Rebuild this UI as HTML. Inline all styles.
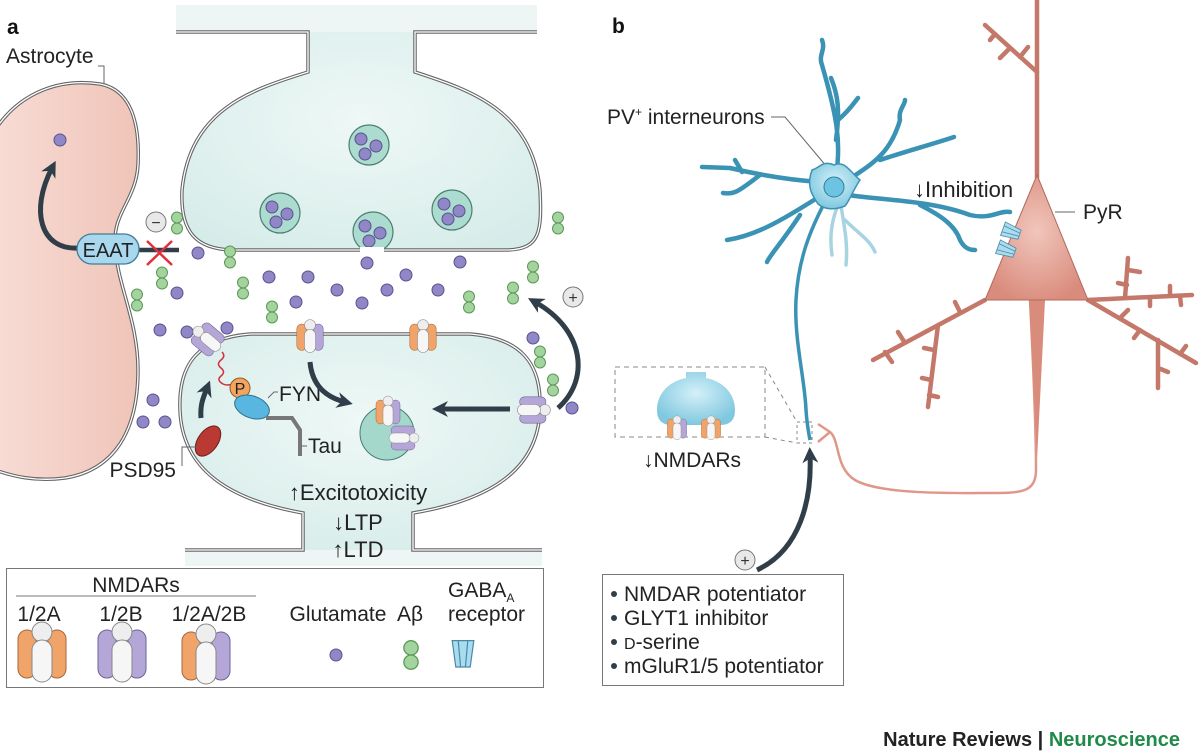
<!DOCTYPE html>
<html><head><meta charset="utf-8"><style>
html,body{margin:0;padding:0;background:#fff;}
svg{display:block;font-family:"Liberation Sans",sans-serif;}
</style></head><body>
<svg width="1200" height="754" viewBox="0 0 1200 754" xmlns="http://www.w3.org/2000/svg">
<defs>
<linearGradient id="pink" x1="0" x2="1"><stop offset="0" stop-color="#f7dcd5"/><stop offset="1" stop-color="#f0c4b8"/></linearGradient>
<radialGradient id="teal" cx="0.5" cy="0.4" r="0.7"><stop offset="0" stop-color="#eef8f6"/><stop offset="1" stop-color="#d6ece9"/></radialGradient>
<radialGradient id="blue" cx="0.5" cy="0.4" r="0.6"><stop offset="0" stop-color="#d5f0f8"/><stop offset="1" stop-color="#7fc8e0"/></radialGradient>
<radialGradient id="pyr" cx="0.5" cy="0.45" r="0.6"><stop offset="0" stop-color="#f1c6bc"/><stop offset="1" stop-color="#d98b7c"/></radialGradient>
<g id="nA"><rect x="-24" y="-20" width="18" height="48" rx="9" fill="#f0a46a" stroke="#a9663a"/><rect x="6" y="-20" width="18" height="48" rx="9" fill="#f0a46a" stroke="#a9663a"/><circle cx="0" cy="-18" r="10" fill="#eee" stroke="#888"/><rect x="-10" y="-10" width="20" height="42" rx="10" fill="#f6f6f6" stroke="#888"/></g>
<g id="nB"><rect x="-24" y="-20" width="18" height="48" rx="9" fill="#b4a6d6" stroke="#6e6399"/><rect x="6" y="-20" width="18" height="48" rx="9" fill="#b4a6d6" stroke="#6e6399"/><circle cx="0" cy="-18" r="10" fill="#eee" stroke="#888"/><rect x="-10" y="-10" width="20" height="42" rx="10" fill="#f6f6f6" stroke="#888"/></g>
<g id="nAB"><rect x="-24" y="-20" width="18" height="48" rx="9" fill="#f0a46a" stroke="#a9663a"/><rect x="6" y="-20" width="18" height="48" rx="9" fill="#b4a6d6" stroke="#6e6399"/><circle cx="0" cy="-18" r="10" fill="#eee" stroke="#888"/><rect x="-10" y="-10" width="20" height="42" rx="10" fill="#f6f6f6" stroke="#888"/></g>
<g id="glu"><circle r="6" fill="#9087c6" stroke="#5a5290" stroke-width="1"/></g>
<g id="ab"><circle cy="-5.5" r="5.5" fill="#a3d49d" stroke="#5c9857"/><circle cy="5.5" r="5.5" fill="#a3d49d" stroke="#5c9857"/></g>
<g id="ves"><circle r="20" fill="#acdccf" stroke="#4c7d72" stroke-width="1.2"/><use href="#glu" x="-8" y="-6"/><use href="#glu" x="7" y="1"/><use href="#glu" x="-4" y="9"/></g>
<g id="gaba"><path d="M-9,-12 L9,-12 L6,10 L-6,10 Z" fill="#a9dcef" stroke="#4a89a6"/><path d="M-4,-12 L-2,10 M4,-12 L2,10" stroke="#4a89a6" fill="none"/></g>
<marker id="ah" viewBox="0 0 10 10" refX="5" refY="5" markerWidth="3.2" markerHeight="3.2" orient="auto"><path d="M0,0 L10,5 L0,10 L3,5 Z" fill="#2f3e48"/></marker>
</defs>

<!-- ===== Panel a ===== -->
<text x="7" y="34" font-size="21" font-weight="bold" fill="#111">a</text>
<text x="6" y="63" font-size="21" fill="#222">Astrocyte</text>
<path d="M98,66 H104 V86" stroke="#666" fill="none"/>

<path d="M-5,130 C 20,92 60,78 100,84 C 132,90 140,125 138,165 C 136,200 113,212 115,245 C 117,285 138,320 138,370 C 138,430 115,470 65,478 C 35,482 12,476 -5,470 Z" fill="url(#pink)" stroke="#666" stroke-width="3.5"/>
<path d="M-5,130 C 20,92 60,78 100,84 C 132,90 140,125 138,165 C 136,200 113,212 115,245 C 117,285 138,320 138,370 C 138,430 115,470 65,478 C 35,482 12,476 -5,470" fill="none" stroke="#fff" stroke-width="1.3"/>
<use href="#glu" x="60" y="140"/>
<path d="M78,248 C 40,250 30,210 52,168" stroke="#2f3e48" stroke-width="5" fill="none" marker-end="url(#ah)"/>
<line x1="136" y1="250" x2="179" y2="250" stroke="#2f3e48" stroke-width="4.5"/>
<rect x="77" y="234" width="62" height="30" rx="15" fill="#a9d8ee" stroke="#3f7e99" stroke-width="1.3"/>
<text x="108" y="257" font-size="20" text-anchor="middle" fill="#222">EAAT</text>
<path d="M147,241 L172,265 M172,241 L147,265" stroke="#e0303a" stroke-width="2.5"/>
<circle cx="156" cy="222" r="10" fill="#e8e8e8" stroke="#777"/><text x="156" y="228" font-size="16" text-anchor="middle" fill="#333">−</text>

<rect x="176" y="5" width="361" height="27" fill="#eef6f5"/>
<path d="M308,32 V72 C 250,90 190,110 182,190 C 180,232 196,249 232,250 H508 C 540,249 542,232 540,190 C 532,110 470,90 415,72 V32 Z" fill="url(#teal)"/>
<path d="M176,32 H308 V72 C 250,90 190,110 182,190 C 180,232 196,249 232,250 H508 C 540,249 542,232 540,190 C 532,110 470,90 415,72 V32 H537" fill="none" stroke="#666" stroke-width="3.5"/>
<path d="M176,32 H308 V72 C 250,90 190,110 182,190 C 180,232 196,249 232,250 H508 C 540,249 542,232 540,190 C 532,110 470,90 415,72 V32 H537" fill="none" stroke="#fff" stroke-width="1.3"/>
<use href="#ves" x="369" y="145"/>
<use href="#ves" x="280" y="213"/>
<use href="#ves" x="452" y="210"/>
<use href="#ves" x="373" y="232"/>
<rect x="360" y="247" width="24" height="6" fill="#fff"/>

<g>
<use href="#glu" x="198" y="253"/><use href="#glu" x="269" y="277"/><use href="#glu" x="308" y="277"/><use href="#glu" x="337" y="290"/>
<use href="#glu" x="362" y="303"/><use href="#glu" x="367" y="263"/><use href="#glu" x="387" y="290"/><use href="#glu" x="406" y="275"/>
<use href="#glu" x="438" y="290"/><use href="#glu" x="460" y="262"/><use href="#glu" x="296" y="302"/><use href="#glu" x="177" y="293"/>
<use href="#glu" x="160" y="330"/><use href="#glu" x="187" y="332"/><use href="#glu" x="227" y="328"/><use href="#glu" x="533" y="338"/>
<use href="#glu" x="153" y="400"/><use href="#glu" x="143" y="422"/><use href="#glu" x="165" y="422"/><use href="#glu" x="572" y="408"/>
<use href="#ab" x="177" y="223"/><use href="#ab" x="230" y="257"/><use href="#ab" x="162" y="278"/><use href="#ab" x="137" y="300"/>
<use href="#ab" x="243" y="288"/><use href="#ab" x="272" y="312"/><use href="#ab" x="469" y="302"/><use href="#ab" x="513" y="293"/>
<use href="#ab" x="533" y="272"/><use href="#ab" x="558" y="223"/><use href="#ab" x="540" y="357"/><use href="#ab" x="553" y="385"/>
</g>

<path d="M303,550 V513 C 230,500 182,470 180,410 C 178,362 200,338 250,334 H470 C 520,338 542,362 540,410 C 538,470 490,500 413,513 V550 Z" fill="url(#teal)"/>
<rect x="185" y="550" width="357" height="16" fill="#eef6f5"/>
<path d="M185,550 H303 V513 C 230,500 182,470 180,410 C 178,362 200,338 250,334 H470 C 520,338 542,362 540,410 C 538,470 490,500 413,513 V550 H542" fill="none" stroke="#666" stroke-width="3.5"/>
<path d="M185,550 H303 V513 C 230,500 182,470 180,410 C 178,362 200,338 250,334 H470 C 520,338 542,362 540,410 C 538,470 490,500 413,513 V550 H542" fill="none" stroke="#fff" stroke-width="1.3"/>

<use href="#nAB" transform="translate(310,335) scale(0.55)"/>
<use href="#nA" transform="translate(423,335) scale(0.55)"/>
<use href="#nB" transform="translate(206,338) rotate(-50) scale(0.55)"/>
<use href="#nB" transform="translate(535,410) rotate(90) scale(0.55)"/>
<path d="M222,352 q4,4 -1,8 q-5,4 0,8 q5,4 0,8 q-5,4 2,8 q4,2 10,0" stroke="#d0303a" stroke-width="1.5" fill="none"/>
<circle cx="240" cy="388" r="10" fill="#f3a55f" stroke="#8a5a2a"/><text x="240" y="394" font-size="16" text-anchor="middle" fill="#222">P</text>
<ellipse cx="252" cy="407" rx="18" ry="11" transform="rotate(20 252 407)" fill="#58b6e0" stroke="#2c6f8e"/>
<path d="M266,418 H292 L300,430 V456" stroke="#777" stroke-width="4" fill="none"/>
<path d="M268,398 L274,392 H278" stroke="#666" fill="none"/>
<text x="279" y="401" font-size="21" fill="#222">FYN</text>
<path d="M301,446 H307" stroke="#666"/>
<text x="308" y="453" font-size="21" fill="#222">Tau</text>
<ellipse cx="208" cy="441" rx="10" ry="17" transform="rotate(35 208 441)" fill="#b83a32" stroke="#6a1f1a"/>
<path d="M198,447 H182 V466" stroke="#666" fill="none"/>
<text x="176" y="477" font-size="21" text-anchor="end" fill="#222">PSD95</text>
<path d="M201,418 C 200,405 203,398 207,388" stroke="#2f3e48" stroke-width="5" fill="none" marker-end="url(#ah)"/>
<path d="M310,362 C 312,385 325,397 345,402" stroke="#2f3e48" stroke-width="5" fill="none" marker-end="url(#ah)"/>
<line x1="510" y1="409" x2="440" y2="409" stroke="#2f3e48" stroke-width="5" marker-end="url(#ah)"/>
<path d="M558,408 C 590,380 585,330 535,302" stroke="#2f3e48" stroke-width="5" fill="none" marker-end="url(#ah)"/>
<circle cx="573" cy="297" r="10" fill="#e8e8e8" stroke="#777"/><text x="573" y="303" font-size="16" text-anchor="middle" fill="#333">+</text>
<circle cx="387" cy="433" r="27" fill="#a3d8cb" stroke="#4c7d72"/>
<use href="#nAB" transform="translate(388,410) scale(0.5)"/>
<use href="#nB" transform="translate(405,438) rotate(90) scale(0.5)"/>
<text x="358" y="500" font-size="22" text-anchor="middle" fill="#222">↑Excitotoxicity</text>
<text x="358" y="530" font-size="22" text-anchor="middle" fill="#222">↓LTP</text>
<text x="358" y="557" font-size="22" text-anchor="middle" fill="#222">↑LTD</text>

<rect x="6.5" y="568.5" width="537" height="119" fill="#fff" stroke="#777"/>
<text x="136" y="592" font-size="21" text-anchor="middle" fill="#222">NMDARs</text>
<line x1="16" y1="596" x2="256" y2="596" stroke="#777"/>
<text x="39" y="621" font-size="21" text-anchor="middle" fill="#222">1/2A</text>
<text x="121" y="621" font-size="21" text-anchor="middle" fill="#222">1/2B</text>
<text x="209" y="621" font-size="21" text-anchor="middle" fill="#222">1/2A/2B</text>
<use href="#nA" transform="translate(42,650)"/>
<use href="#nB" transform="translate(122,650)"/>
<use href="#nAB" transform="translate(206,652)"/>
<text x="338" y="621" font-size="21" text-anchor="middle" fill="#222">Glutamate</text>
<use href="#glu" x="336" y="655"/>
<text x="410" y="621" font-size="21" text-anchor="middle" fill="#222">Aβ</text>
<use href="#ab" transform="translate(411,655) scale(1.3)"/>
<text x="448" y="597" font-size="21" fill="#222">GABA<tspan font-size="12" dy="5">A</tspan></text>
<text x="448" y="621" font-size="21" fill="#222">receptor</text>
<use href="#gaba" transform="translate(463,655) scale(1.2)"/>

<!-- ===== Panel b ===== -->
<text x="612" y="33" font-size="21" font-weight="bold" fill="#111">b</text>
<text x="607" y="124" font-size="21" fill="#222">PV<tspan font-size="12" dy="-8">+</tspan><tspan dy="8"> interneurons</tspan></text>
<path d="M771,117 H785 L827,167" stroke="#666" fill="none"/>

<g stroke="#c4786a" stroke-width="4.5" fill="none" stroke-linecap="round">
<path d="M1037,0 V178"/>
<path d="M1037,72 L985,25 M1010,48 L1000,58 M1020,57 L1028,47 M995,34 L990,40"/>
<path d="M985,300 L873,360 M938,325 L928,407 M960,312 L955,302 M905,343 L898,332 M885,352 L892,362 M934,350 L924,348 M931,380 L922,378 M929,395 L938,397"/>
<path d="M1088,300 L1192,295 M1125,298 L1128,258 M1128,270 L1140,272 M1127,285 L1118,283 M1150,297 L1150,306 M1170,296 L1170,286 M1180,296 L1181,305"/>
<path d="M1088,300 L1196,363 M1158,340 L1158,388 M1158,368 L1168,372 M1120,318 L1128,310 M1140,330 L1134,338 M1180,354 L1186,346"/>
</g>
<path d="M1037,300 L1030,300 C 1034,380 1036,440 1036,470 C 1036,493 1020,493 990,493 C 960,493 880,495 855,480 C 835,468 840,440 830,432 L818,424 M830,432 L818,442" stroke="#e0978a" stroke-width="2.5" fill="none"/>
<path d="M1029,300 L1045,300 L1037,460 Z" fill="#d98b7c"/>
<path d="M1037,175 L985,300 L1088,300 Z" fill="url(#pyr)" stroke="#b06a5c"/>
<line x1="1055" y1="212" x2="1075" y2="212" stroke="#666"/>
<text x="1083" y="219" font-size="21" fill="#222">PyR</text>
<use href="#gaba" transform="translate(1012,232) rotate(-70) scale(0.8)"/>
<use href="#gaba" transform="translate(1007,250) rotate(-70) scale(0.8)"/>

<g stroke="#3a93b5" stroke-width="4.5" fill="none" stroke-linecap="round">
<path d="M836,175 C 842,140 835,110 822,65 M836,140 C 840,110 838,95 831,78 M838,120 C 850,110 856,100 858,98 M822,65 C 818,55 826,50 822,40"/>
<path d="M848,180 C 870,165 890,155 900,120 M880,160 C 910,150 930,145 954,137 M900,120 C 898,110 905,105 905,100"/>
<path d="M848,195 C 880,200 930,200 970,215 C 990,220 1000,210 1010,212 M920,205 C 940,215 955,225 960,240 C 965,250 972,250 975,250"/>
<path d="M820,182 C 790,180 760,175 730,168 L702,167 M760,175 C 740,190 735,195 723,193 M742,172 L735,160"/>
<path d="M822,195 C 790,215 760,235 727,240 M800,215 C 780,245 770,255 767,262"/>
</g>
<g stroke="#a8d4e2" stroke-width="3.5" fill="none" stroke-linecap="round">
<path d="M840,200 C 845,230 848,245 846,265 M845,220 C 860,235 870,240 875,252 M838,205 C 830,225 830,240 832,255"/>
</g>
<path d="M826,200 C 810,230 798,260 796,300 C 794,340 805,380 806,410 C 807,425 809,435 810,440" stroke="#3a93b5" stroke-width="3.5" fill="none"/>
<path d="M812,170 C 820,168 822,160 834,165 C 845,160 850,172 860,180 C 852,192 850,200 845,206 C 835,210 825,210 818,204 C 812,195 806,186 812,170 Z" fill="url(#blue)" stroke="#3a93b5" stroke-width="1.5"/>
<circle cx="834" cy="187" r="10" fill="#6cc3e2" stroke="#2f7e9c"/>
<text x="914" y="197" font-size="22" fill="#222">↓Inhibition</text>

<rect x="615" y="367" width="150" height="70" fill="none" stroke="#888" stroke-dasharray="5,4"/>
<rect x="797" y="422" width="15" height="21" fill="none" stroke="#888" stroke-dasharray="3,3"/>
<path d="M765,367 L797,422 M765,437 L797,443" stroke="#888" stroke-dasharray="4,4"/>
<path d="M686,372 H706 V378 C 725,382 735,395 735,410 C 735,422 728,425 720,425 H672 C 664,425 657,422 657,410 C 657,395 667,382 686,378 Z" fill="url(#blue)"/>
<use href="#nAB" transform="translate(677,427) scale(0.4)"/>
<use href="#nA" transform="translate(711,427) scale(0.4)"/>
<text x="692" y="467" font-size="21" text-anchor="middle" fill="#222">↓NMDARs</text>

<path d="M757,570 C 800,550 812,500 810,455" stroke="#2f3e48" stroke-width="5" fill="none" marker-end="url(#ah)"/>
<circle cx="745" cy="560" r="10" fill="#e8e8e8" stroke="#777"/><text x="745" y="566" font-size="16" text-anchor="middle" fill="#333">+</text>

<rect x="602.5" y="574.5" width="241" height="111" fill="#fff" stroke="#777"/>
<g font-size="21" fill="#222">
<circle cx="614" cy="594" r="3" fill="#2f3e48"/><text x="624" y="601">NMDAR potentiator</text>
<circle cx="614" cy="618" r="3" fill="#2f3e48"/><text x="624" y="625">GLYT1 inhibitor</text>
<circle cx="614" cy="642" r="3" fill="#2f3e48"/><text x="624" y="649"><tspan font-size="16">D</tspan>-serine</text>
<circle cx="614" cy="666" r="3" fill="#2f3e48"/><text x="624" y="673">mGluR1/5 potentiator</text>
</g>

<text x="1180" y="746" font-size="20" font-weight="bold" text-anchor="end" fill="#222">Nature Reviews | <tspan fill="#1f8a4a">Neuroscience</tspan></text>
</svg>
</body></html>
